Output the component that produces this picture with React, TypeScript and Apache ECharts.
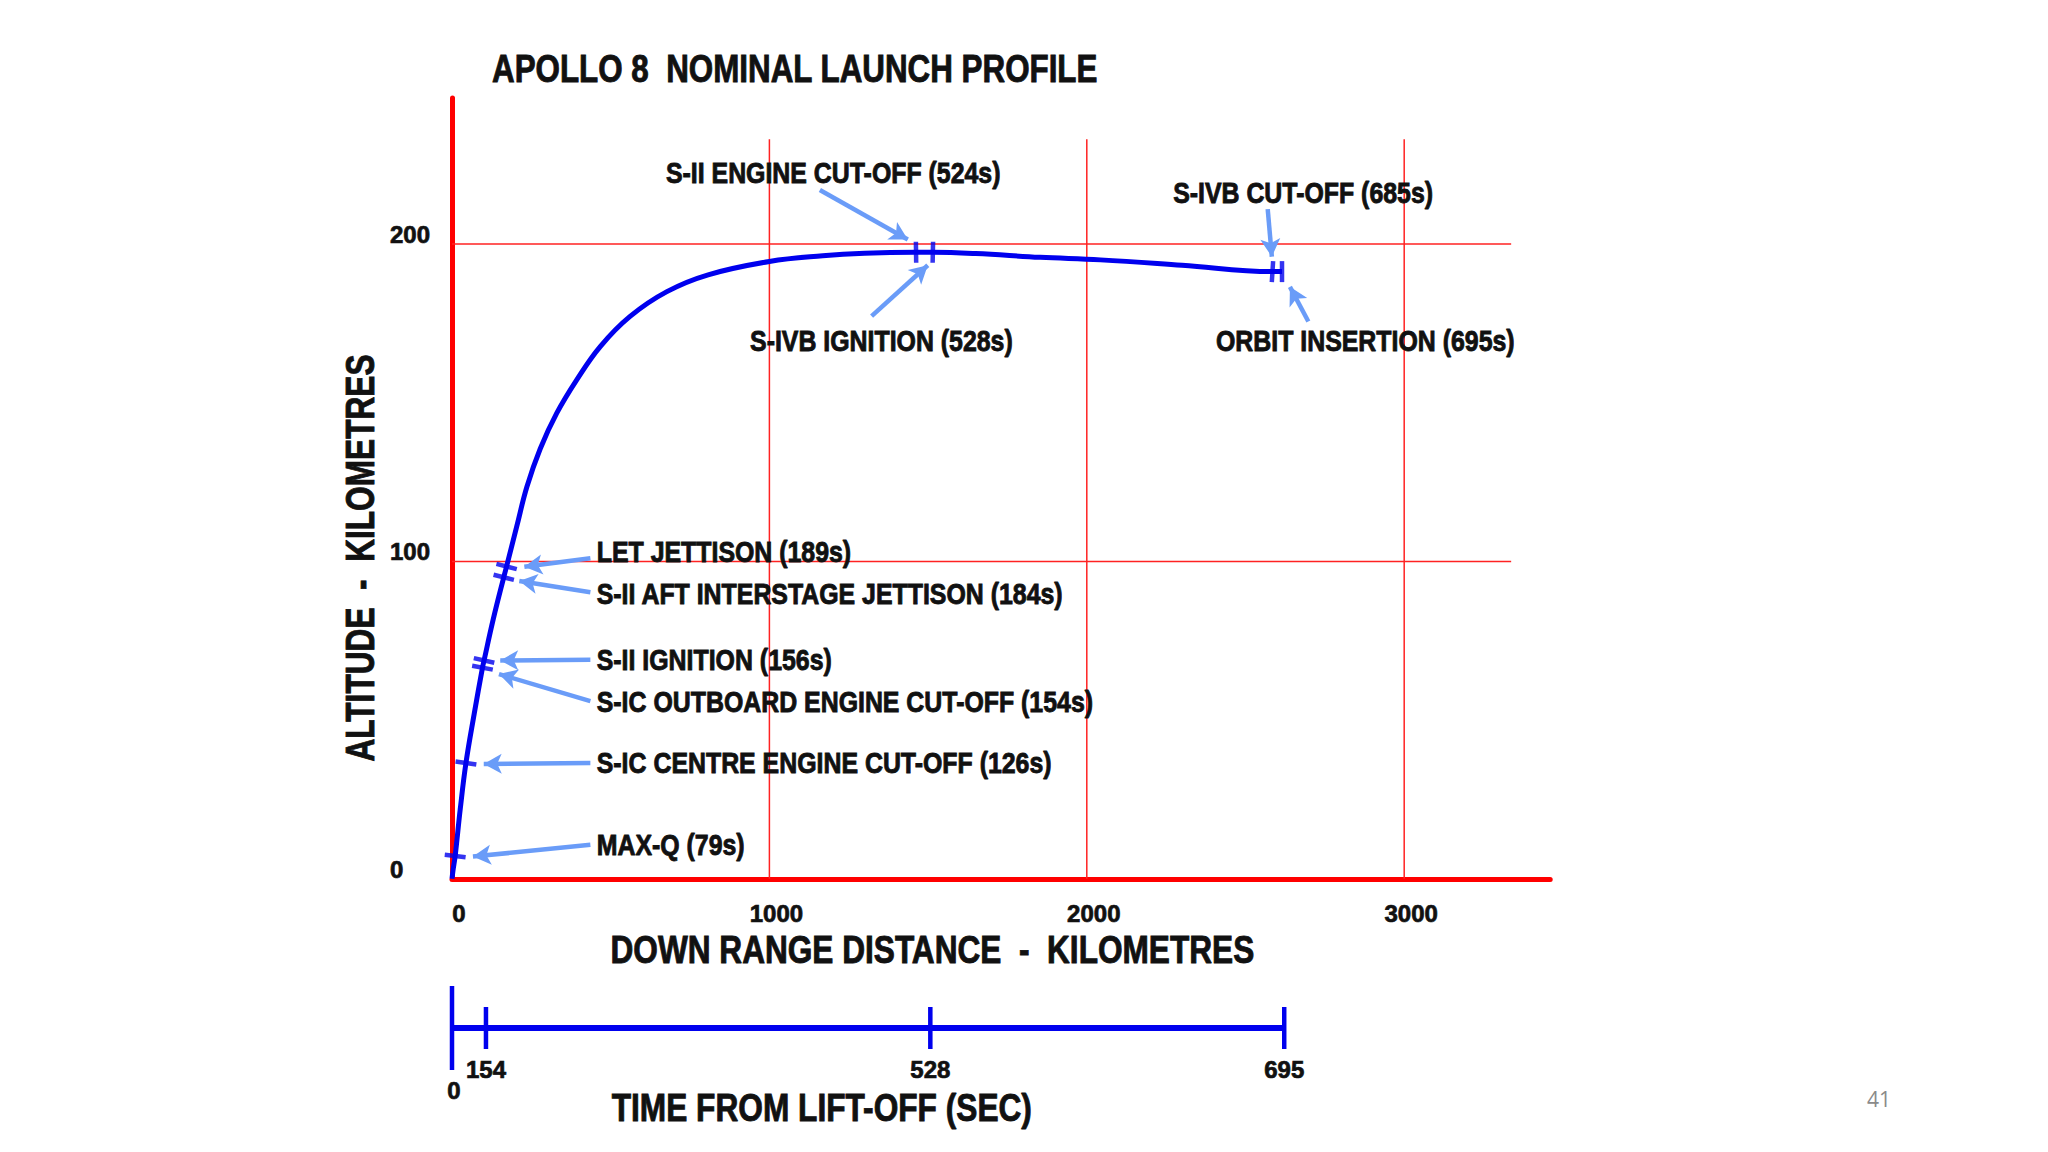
import React, { useEffect, useRef } from 'react';
import * as echarts from 'echarts';

// ---------- texts ----------
const chartTitle = 'APOLLO 8  NOMINAL LAUNCH PROFILE';
const xAxisTitle = 'DOWN RANGE DISTANCE  -  KILOMETRES';
const yAxisTitle = 'ALTITUDE  -  KILOMETRES';
const timeAxisTitle = 'TIME FROM LIFT-OFF (SEC)';
const pageNumber = '41';

// ---------- axes ----------
const xTicks = [0, 1000, 2000, 3000];
const yTicks = [0, 100, 200];

// ---------- trajectory (down range km, altitude km) ----------
const curveDistanceKm = [0, 3, 10, 26, 44, 70, 96, 101, 130, 163, 172, 204, 236, 278, 330, 393, 467, 561, 677, 807, 1000, 1168, 1300, 1462, 1515, 1650, 1853, 2043, 2300, 2585, 2615];
const curveAltitudeKm = [0, 2.5, 7.2, 22, 36.5, 52, 66.5, 68.8, 81.8, 95, 98.4, 111, 123.5, 135.5, 146.7, 157.2, 167.7, 177.2, 185, 190.3, 194.5, 196.3, 197.1, 197.4, 197.4, 197, 195.8, 195, 193.3, 191.3, 191.3];

// ---------- events ----------
const eventLabels = [
  'MAX-Q (79s)',
  'S-IC CENTRE ENGINE CUT-OFF (126s)',
  'S-IC OUTBOARD ENGINE CUT-OFF (154s)',
  'S-II IGNITION (156s)',
  'S-II AFT INTERSTAGE JETTISON (184s)',
  'LET JETTISON (189s)',
  'S-II ENGINE CUT-OFF (524s)',
  'S-IVB IGNITION (528s)',
  'S-IVB CUT-OFF (685s)',
  'ORBIT INSERTION (695s)',
];
const eventSeconds = [79, 126, 154, 156, 184, 189, 524, 528, 685, 695];
const eventDistanceKm = [10, 44, 96, 101, 163, 172, 1462, 1515, 2585, 2615];
const eventAltitudeKm = [7.2, 36.5, 66.5, 68.8, 95, 98.4, 197.4, 197.4, 191.3, 191.3];
const labelDistanceKm = [456, 456, 456, 456, 456, 456, 674, 939, 2272, 2407];
const labelAltitudeKm = [10.7, 36.6, 55.9, 69.1, 89.8, 103, 222.6, 169.6, 216.3, 169.6];
const arrowTailDistanceKm = [436, 436, 436, 436, 436, 436, 1159, 1322, 2570, 2698];
const arrowTailAltitudeKm = [10.7, 36.5, 56, 69, 90.3, 101, 217, 177.3, 211, 175.6];
const arrowHeadDistanceKm = [66, 100, 148, 152, 212, 228, 1436, 1499, 2583, 2640];
const arrowHeadAltitudeKm = [7.0, 36.2, 64.5, 68.8, 93.8, 98.3, 201.4, 193.3, 196, 186.5];

// ---------- time from lift-off scale ----------
const timeTickSeconds = [0, 154, 528, 695];
const timeTickDistanceKm = [0, 107, 1507, 2622];

// ---------- layout / style ----------
const GRID_LEFT = 452;
const GRID_TOP = 98;
const GRID_W = 1098.2;
const GRID_H = 780.8;
const X_MAX = 3460;
const Y_MAX = 246;
const GRIDLINE_TOP_KM = 233;
const GRIDLINE_RIGHT_KM = 3337;

const RED = '#ff0000';
const BLUE = '#0000ee';
const ARROW = '#6a9cf8';
const INK = '#111111';
const CONDENSED = "'Liberation Sans Narrow', 'Liberation Sans', Arial, sans-serif";
const WIDE = "'Liberation Sans', Arial, sans-serif";

function measure(text: string, font: string): number {
  const ctx = document.createElement('canvas').getContext('2d') as CanvasRenderingContext2D;
  ctx.font = font;
  return ctx.measureText(text).width;
}

export default function App() {
  const ref = useRef<HTMLDivElement>(null);

  useEffect(() => {
    document.body.style.margin = '0';
    if (!ref.current) return;
    const chart = echarts.init(ref.current, undefined, { renderer: 'svg' });

    const kx = GRID_W / X_MAX;
    const ky = GRID_H / Y_MAX;

    const LABEL_FONT = `bold 30px ${CONDENSED}`;
    const labelScale = 467 / measure(eventLabels[4], LABEL_FONT);
    const TITLE_FONT = `bold 38px ${CONDENSED}`;
    const titleScale = 606 / measure(chartTitle, TITLE_FONT);
    const xTitleScale = 644 / measure(xAxisTitle, TITLE_FONT);
    const timeTitleScale = 420 / measure(timeAxisTitle, TITLE_FONT);
    const Y_TITLE_FONT = `bold 40px ${WIDE}`;
    const yTitleScale = 407 / measure(yAxisTitle, Y_TITLE_FONT);
    const TICK_FONT = `bold 24px ${WIDE}`;

    const curve = curveDistanceKm.map((d, i) => [d, curveAltitudeKm[i]]);

    const markerRotation = (d: number) => {
      const k = curveDistanceKm.indexOf(d);
      const n = curveDistanceKm.length;
      const a = Math.max(0, k - 1);
      const b = Math.min(n - 1, k + 1);
      const ang = Math.atan2(
        (curveAltitudeKm[b] - curveAltitudeKm[a]) * ky,
        (curveDistanceKm[b] - curveDistanceKm[a]) * kx
      );
      return (ang * 180) / Math.PI + 90;
    };

    const events = eventDistanceKm.map((d, i) => ({
      value: [d, eventAltitudeKm[i], eventSeconds[i]],
      symbolRotate: markerRotation(d),
    }));

    const gridLines = [
      ...xTicks.filter((v) => v > 0).map((v) => [v, 0, 0]),
      ...yTicks.filter((v) => v > 0).map((v) => [0, v, 1]),
    ];

    const heavy = { stroke: INK, lineWidth: 0.9 };

    const option: any = {
      animation: false,
      backgroundColor: '#ffffff',
      grid: [
        { left: GRID_LEFT, top: GRID_TOP, width: GRID_W, height: GRID_H },
        { left: GRID_LEFT, top: 986, width: GRID_W, height: 84 },
      ],
      xAxis: [
        {
          type: 'value',
          gridIndex: 0,
          min: 0,
          max: X_MAX,
          interval: 1000,
          axisLine: { show: true, onZero: false, lineStyle: { color: RED, width: 5 } },
          axisTick: { show: false },
          splitLine: { show: false },
          axisLabel: {
            formatter: (v: number) => (xTicks.includes(v) ? String(v) : ''),
            margin: 23,
            verticalAlign: 'top',
            align: 'center',
            padding: [0, 0, 0, 14],
            fontFamily: WIDE,
            fontWeight: 'bold',
            fontSize: 24,
            color: INK,
            textBorderColor: INK,
            textBorderWidth: 0.7,
          },
        },
        { type: 'value', gridIndex: 1, min: 0, max: X_MAX, show: false },
      ],
      yAxis: [
        {
          type: 'value',
          gridIndex: 0,
          min: 0,
          max: Y_MAX,
          interval: 100,
          axisLine: { show: true, onZero: false, lineStyle: { color: RED, width: 5 } },
          axisTick: { show: false },
          splitLine: { show: false },
          axisLabel: {
            formatter: (v: number) => (yTicks.includes(v) ? String(v) : ''),
            margin: 62,
            align: 'left',
            verticalAlign: 'bottom',
            lineHeight: 19,
            fontFamily: WIDE,
            fontWeight: 'bold',
            fontSize: 24,
            color: INK,
            textBorderColor: INK,
            textBorderWidth: 0.7,
          },
        },
        { type: 'value', gridIndex: 1, min: 0, max: 1, show: false },
      ],
      series: [
        {
          type: 'custom',
          name: 'gridlines',
          xAxisIndex: 0,
          yAxisIndex: 0,
          z: 1,
          silent: true,
          data: gridLines,
          renderItem: (_p: any, api: any) => {
            const v = api.value(0);
            const h = api.value(1);
            const vertical = api.value(2) === 0;
            const p1 = vertical ? api.coord([v, 0]) : api.coord([0, h]);
            const p2 = vertical ? api.coord([v, GRIDLINE_TOP_KM]) : api.coord([GRIDLINE_RIGHT_KM, h]);
            return {
              type: 'line',
              shape: { x1: p1[0], y1: p1[1], x2: p2[0], y2: p2[1] },
              style: { stroke: '#ff2222', lineWidth: 1.5 },
            };
          },
        },
        {
          type: 'line',
          name: 'trajectory',
          xAxisIndex: 0,
          yAxisIndex: 0,
          z: 3,
          data: curve,
          smooth: 0.4,
          showSymbol: false,
          symbol: 'none',
          silent: true,
          lineStyle: { color: BLUE, width: 5 },
        },
        {
          type: 'scatter',
          name: 'events',
          xAxisIndex: 0,
          yAxisIndex: 0,
          z: 4,
          silent: true,
          data: events,
          symbol: 'rect',
          symbolSize: [21, 4.5],
          itemStyle: { color: BLUE },
          markLine: {
            silent: true,
            symbol: ['none', 'arrow'],
            symbolSize: [15, 18],
            label: { show: false },
            lineStyle: { color: ARROW, width: 4.5, type: 'solid' },
            emphasis: { disabled: true },
            data: arrowTailDistanceKm.map((d, i) => [
              { coord: [d, arrowTailAltitudeKm[i]] },
              { coord: [arrowHeadDistanceKm[i], arrowHeadAltitudeKm[i]] },
            ]),
          },
        },
        {
          type: 'custom',
          name: 'labels',
          xAxisIndex: 0,
          yAxisIndex: 0,
          z: 5,
          silent: true,
          data: labelDistanceKm.map((d, i) => [d, labelAltitudeKm[i], i]),
          renderItem: (_p: any, api: any) => {
            const p = api.coord([api.value(0), api.value(1)]);
            const i = api.value(2);
            return {
              type: 'text',
              x: p[0],
              y: p[1],
              scaleX: labelScale,
              style: {
                text: eventLabels[i],
                font: LABEL_FONT,
                fill: INK,
                ...heavy,
                align: 'left',
                verticalAlign: 'middle',
                textAlign: 'left',
                textVerticalAlign: 'middle',
              },
            };
          },
        },
        {
          type: 'line',
          name: 'time axis',
          xAxisIndex: 1,
          yAxisIndex: 1,
          z: 3,
          silent: true,
          showSymbol: false,
          symbol: 'none',
          data: [
            [timeTickDistanceKm[0], 0.5],
            [timeTickDistanceKm[timeTickDistanceKm.length - 1], 0.5],
          ],
          lineStyle: { color: BLUE, width: 6 },
        },
        {
          type: 'custom',
          name: 'time ticks',
          xAxisIndex: 1,
          yAxisIndex: 1,
          z: 4,
          silent: true,
          data: timeTickDistanceKm.map((d, i) => [d, 0.5, timeTickSeconds[i], i]),
          renderItem: (_p: any, api: any) => {
            const d = api.value(0);
            const origin = api.value(3) === 0;
            const top = api.coord([d, origin ? 1 : 0.75]);
            const bot = api.coord([d, origin ? 0 : 0.25]);
            return {
              type: 'group',
              children: [
                {
                  type: 'line',
                  shape: { x1: top[0], y1: top[1], x2: bot[0], y2: bot[1] },
                  style: { stroke: BLUE, lineWidth: 4.5 },
                },
                {
                  type: 'text',
                  x: bot[0] + (origin ? 2 : 0),
                  y: bot[1] + 20,
                  style: {
                    text: String(api.value(2)),
                    font: TICK_FONT,
                    fill: INK,
                    stroke: INK,
                    lineWidth: 0.7,
                    align: 'center',
                    verticalAlign: 'middle',
                    textAlign: 'center',
                    textVerticalAlign: 'middle',
                  },
                },
              ],
            };
          },
        },
      ],
      graphic: [
        {
          type: 'text',
          x: 492,
          y: 68,
          scaleX: titleScale,
          silent: true,
          style: { text: chartTitle, font: TITLE_FONT, fill: INK, ...heavy, textAlign: 'left', textVerticalAlign: 'middle' },
        },
        {
          type: 'text',
          x: 360.5,
          y: 558,
          rotation: Math.PI / 2,
          scaleX: yTitleScale,
          silent: true,
          style: { text: yAxisTitle, font: Y_TITLE_FONT, fill: INK, ...heavy, textAlign: 'center', textVerticalAlign: 'middle' },
        },
        {
          type: 'text',
          x: 610.5,
          y: 949,
          scaleX: xTitleScale,
          silent: true,
          style: { text: xAxisTitle, font: TITLE_FONT, fill: INK, ...heavy, textAlign: 'left', textVerticalAlign: 'middle' },
        },
        {
          type: 'text',
          x: 611.7,
          y: 1107,
          scaleX: timeTitleScale,
          silent: true,
          style: { text: timeAxisTitle, font: TITLE_FONT, fill: INK, ...heavy, textAlign: 'left', textVerticalAlign: 'middle' },
        },
        {
          type: 'text',
          x: 1879,
          y: 1099,
          silent: true,
          style: { text: pageNumber, font: `21px 'Open Sans', ${WIDE}`, fill: '#8a8a8a', textAlign: 'center', textVerticalAlign: 'middle' },
        },
      ],
    };

    chart.setOption(option);
    return () => chart.dispose();
  }, []);

  return <div ref={ref} style={{ width: 2048, height: 1152 }} />;
}
